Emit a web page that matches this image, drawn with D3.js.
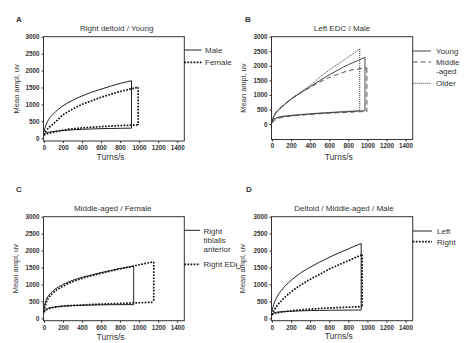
<!DOCTYPE html>
<html>
<head>
<meta charset="utf-8">
<script src="https://cdn.jsdelivr.net/npm/d3@7"></script>
<style>
body { margin: 0; background: #fff; }
text { font-family: "Liberation Sans", Arial, sans-serif; fill: #333; }
</style>
</head>
<body>
<svg id="chart" width="474" height="343"></svg>
<script>
const xTicks = [0, 200, 400, 600, 800, 1000, 1200, 1400];
const yTicks = [0, 500, 1000, 1500, 2000, 2500, 3000];

// A: Right deltoid / Young
const aMaleX = [0, 10, 25, 50, 100, 200, 300, 400, 500, 600, 700, 800, 920];
const aMaleUp = [180, 300, 420, 560, 720, 960, 1120, 1250, 1360, 1450, 1540, 1620, 1700];
const aMaleLow = [130, 150, 165, 180, 200, 230, 250, 265, 275, 285, 290, 295, 300];
const aFemaleX = [0, 10, 25, 50, 100, 200, 300, 400, 500, 600, 700, 800, 900, 990];
const aFemaleUp = [100, 160, 230, 310, 430, 690, 860, 1000, 1110, 1210, 1300, 1380, 1450, 1510];
const aFemaleLow = [90, 110, 130, 150, 180, 240, 280, 305, 325, 345, 360, 375, 385, 395];

// B: Left EDC / Male
const bYoungX = [0, 10, 25, 50, 100, 200, 300, 400, 500, 600, 700, 800, 900, 975];
const bYoungUp = [60, 180, 300, 420, 580, 850, 1070, 1280, 1490, 1690, 1870, 2040, 2180, 2290];
const bYoungLow = [60, 120, 170, 210, 250, 290, 320, 345, 370, 390, 410, 425, 445, 456];
const bMiddleX = [0, 10, 25, 50, 100, 200, 300, 400, 500, 600, 700, 800, 900, 995];
const bMiddleUp = [60, 200, 330, 450, 600, 860, 1070, 1260, 1440, 1600, 1720, 1830, 1890, 1930];
const bMiddleLow = [40, 80, 120, 170, 220, 275, 305, 330, 355, 375, 390, 405, 420, 430];
const bOlderX = [0, 10, 25, 50, 100, 200, 300, 400, 500, 600, 700, 800, 920];
const bOlderUp = [60, 170, 290, 410, 570, 860, 1100, 1330, 1600, 1850, 2080, 2300, 2580];
const bOlderLow = [60, 130, 180, 220, 260, 300, 330, 355, 380, 400, 420, 440, 460];

// C: Middle-aged / Female
const cTibX = [0, 10, 25, 50, 100, 200, 300, 400, 500, 600, 700, 800, 943];
const cTibUp = [250, 420, 560, 680, 820, 1000, 1120, 1210, 1280, 1350, 1410, 1470, 1540];
const cTibLow = [200, 240, 270, 300, 330, 360, 375, 385, 392, 398, 402, 404, 406];
const cEdcX = [0, 10, 25, 50, 100, 200, 300, 400, 500, 600, 700, 800, 900, 1000, 1100, 1154];
const cEdcUp = [200, 340, 480, 610, 760, 950, 1080, 1180, 1260, 1330, 1400, 1460, 1520, 1580, 1640, 1665];
const cEdcLow = [180, 220, 250, 285, 320, 360, 380, 395, 410, 420, 430, 440, 450, 460, 470, 475];

// D: Deltoid / Middle-aged / Male
const dLeftX = [0, 10, 25, 50, 100, 200, 300, 400, 500, 600, 700, 800, 935];
const dLeftUp = [200, 330, 460, 620, 830, 1120, 1340, 1510, 1660, 1800, 1930, 2050, 2210];
const dLeftLow = [130, 150, 165, 180, 195, 210, 220, 228, 233, 237, 240, 243, 246];
const dRightX = [0, 10, 25, 50, 100, 200, 300, 400, 500, 600, 700, 800, 945];
const dRightUp = [100, 170, 250, 360, 520, 780, 980, 1150, 1300, 1450, 1580, 1700, 1880];
const dRightLow = [100, 120, 140, 160, 185, 220, 250, 270, 290, 305, 318, 330, 345];

const styles = {
    solid: { w: 1, dash: null, color: "#222" },
    solidGray: { w: 1, dash: null, color: "#444" },
    dotted: { w: 1.7, dash: "1.7,1.4", color: "#111" },
    dashed: { w: 1, dash: "5,3", color: "#555" },
    fineDot: { w: 1, dash: "1,1", color: "#333" }
};

const panels = [
    {
        letter: "A", title: "Right deltoid / Young",
        left: 43.5, right: 184.3, top: 36.7, bottom: 141, yMin: -80,
        letterX: 16, letterY: 22, titleX: 116.7, titleY: 30.5,
        yTitleX: 18.5, xTitleY: 160, clip: null,
        series: [
            { x: aMaleX, up: aMaleUp, low: aMaleLow, style: "solid" },
            { x: aFemaleX, up: aFemaleUp, low: aFemaleLow, style: "dotted" }
        ],
        legend: { x1: 184.3, x2: 201.5, tx: 205, items: [
            { lines: ["Male"], y: 50, ly: 50, style: "solid" },
            { lines: ["Female"], y: 62.3, ly: 62.3, style: "dotted" }
        ] }
    },
    {
        letter: "B", title: "Left EDC / Male",
        left: 271.5, right: 412.7, top: 36.7, bottom: 139.5, yMin: -530,
        letterX: 245, letterY: 22, titleX: 342, titleY: 30.5,
        yTitleX: 246, xTitleY: 159.5, clip: null,
        series: [
            { x: bYoungX, up: bYoungUp, low: bYoungLow, style: "solidGray" },
            { x: bMiddleX, up: bMiddleUp, low: bMiddleLow, style: "dashed" },
            { x: bOlderX, up: bOlderUp, low: bOlderLow, style: "fineDot" }
        ],
        legend: { x1: 412.7, x2: 431, tx: 436, items: [
            { lines: ["Young"], y: 51, ly: 51, style: "solidGray" },
            { lines: ["Middle", "-aged"], y: 62, ly: 62, style: "dashed" },
            { lines: ["Older"], y: 83.3, ly: 83.3, style: "fineDot" }
        ] }
    },
    {
        letter: "C", title: "Middle-aged /  Female",
        left: 43.5, right: 184.3, top: 216.7, bottom: 320.7, yMin: -70,
        letterX: 16, letterY: 192, titleX: 112.7, titleY: 211,
        yTitleX: 17.5, xTitleY: 339.5, clip: [0, 170, 237, 173],
        series: [
            { x: cTibX, up: cTibUp, low: cTibLow, style: "solid" },
            { x: cEdcX, up: cEdcUp, low: cEdcLow, style: "dotted" }
        ],
        legend: { x1: 184.3, x2: 200, tx: 203.5, items: [
            { lines: ["Right", "tibialis", "anterior"], y: 231, ly: 230.3, style: "solid" },
            { lines: ["Right EDC"], y: 264.3, ly: 264.3, style: "dotted" }
        ] }
    },
    {
        letter: "D", title: "Deltoid / Middle-aged / Male",
        left: 271.5, right: 412.7, top: 216.7, bottom: 320.7, yMin: -70,
        letterX: 246, letterY: 192, titleX: 344, titleY: 211,
        yTitleX: 245, xTitleY: 338.5, clip: null,
        series: [
            { x: dLeftX, up: dLeftUp, low: dLeftLow, style: "solid" },
            { x: dRightX, up: dRightUp, low: dRightLow, style: "dotted" }
        ],
        legend: { x1: 412.7, x2: 432, tx: 437, items: [
            { lines: ["Left"], y: 231, ly: 231, style: "solid" },
            { lines: ["Right"], y: 241.7, ly: 241.7, style: "dotted" }
        ] }
    }
];

const svg = d3.select("#chart");
const defs = svg.append("defs");

panels.forEach((p, pi) => {
    let g = svg.append("g");
    if (p.clip) {
        defs.append("clipPath").attr("id", "clip" + pi)
            .append("rect")
            .attr("x", p.clip[0]).attr("y", p.clip[1])
            .attr("width", p.clip[2]).attr("height", p.clip[3]);
        g.attr("clip-path", "url(#clip" + pi + ")");
    }

    const x = d3.scaleLinear().domain([-5, 1475]).range([p.left, p.right]);
    const y = d3.scaleLinear().domain([p.yMin, 3000]).range([p.bottom, p.top]);

    g.append("text")
        .attr("x", p.letterX).attr("y", p.letterY)
        .style("font-size", "8px").style("font-weight", "bold")
        .text(p.letter);

    g.append("text")
        .attr("x", p.titleX).attr("y", p.titleY)
        .attr("text-anchor", "middle")
        .style("font-size", "8px")
        .text(p.title);

    // frame
    g.append("rect")
        .attr("x", p.left).attr("y", p.top)
        .attr("width", p.right - p.left).attr("height", p.bottom - p.top)
        .attr("fill", "none").attr("stroke", "#333").attr("stroke-width", 1);

    const yAxis = g.append("g")
        .attr("transform", `translate(${p.left},0)`)
        .call(d3.axisLeft(y).tickValues(yTicks).tickFormat(d3.format("d")).tickSize(2).tickPadding(2));
    const xAxis = g.append("g")
        .attr("transform", `translate(0,${p.bottom})`)
        .call(d3.axisBottom(x).tickValues(xTicks).tickFormat(d3.format("d")).tickSize(2).tickPadding(2.5));
    [xAxis, yAxis].forEach(a => {
        a.select(".domain").remove();
        a.selectAll("line").attr("stroke", "#333");
        a.selectAll("text")
            .style("font-size", "6.3px").style("font-weight", "bold")
            .style("font-family", "'Liberation Sans', Arial, sans-serif")
            .attr("fill", "#333");
    });

    g.append("text")
        .attr("x", (x(0) + x(1400)) / 2).attr("y", p.xTitleY)
        .attr("text-anchor", "middle")
        .style("font-size", "8.5px")
        .text("Turns/s");

    g.append("text")
        .attr("transform", `translate(${p.yTitleX},${(p.top + p.bottom) / 2}) rotate(-90)`)
        .attr("text-anchor", "middle")
        .style("font-size", "7.5px")
        .text("Mean ampl, uv");

    const line = d3.line().x(d => x(d[0])).y(d => y(d[1])).curve(d3.curveMonotoneX);

    p.series.forEach(s => {
        const st = styles[s.style];
        const upPts = s.x.map((v, i) => [v, s.up[i]]);
        const lowPts = s.x.map((v, i) => [v, s.low[i]]);
        const last = s.x.length - 1;
        const d = line(upPts)
            + `M${x(s.x[last])},${y(s.up[last])}L${x(s.x[last])},${y(s.low[last])}`
            + line(lowPts);
        g.append("path")
            .attr("d", d)
            .attr("fill", "none")
            .attr("stroke", st.color)
            .attr("stroke-width", st.w)
            .attr("stroke-dasharray", st.dash);
    });

    const lg = p.legend;
    lg.items.forEach(it => {
        const st = styles[it.style];
        g.append("line")
            .attr("x1", lg.x1).attr("x2", lg.x2)
            .attr("y1", it.ly).attr("y2", it.ly)
            .attr("stroke", st.color)
            .attr("stroke-width", st.w)
            .attr("stroke-dasharray", st.dash);
        it.lines.forEach((t, k) => {
            g.append("text")
                .attr("x", lg.tx).attr("y", it.y + k * 9.3)
                .attr("dy", "0.35em")
                .style("font-size", "8px")
                .text(t);
        });
    });
});

// stray rotated glyph left of panel D's axis title
svg.append("text")
    .attr("transform", "translate(241,267) rotate(-90)")
    .attr("text-anchor", "middle")
    .style("font-size", "7px")
    .text("C");
</script>
</body>
</html>
